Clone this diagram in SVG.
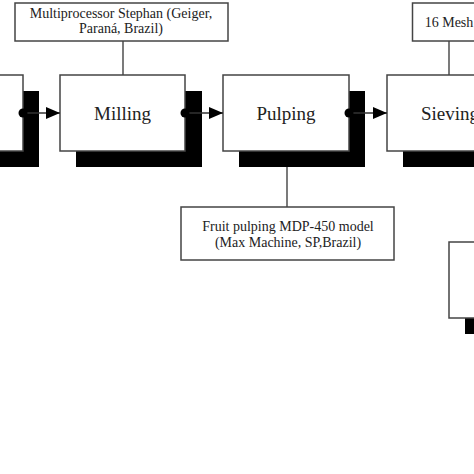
<svg xmlns="http://www.w3.org/2000/svg" width="474" height="474" viewBox="0 0 474 474">
<style>
.shadow{fill:#000;}
.box{fill:#fff;stroke:#444;stroke-width:1.5;}
.note{fill:#fff;stroke:#444;stroke-width:1.5;}
.lbl{font-family:"Liberation Serif","Times New Roman",serif;font-size:19px;fill:#222;text-anchor:middle;}
.ntxt{font-family:"Liberation Serif","Times New Roman",serif;font-size:14px;fill:#222;text-anchor:middle;}
.conn{stroke:#333;stroke-width:1.3;fill:none;}
.dot{fill:#000;}
</style>
<defs>
<marker id="arr" viewBox="0 0 14 12" refX="14" refY="6" markerWidth="14" markerHeight="12" markerUnits="userSpaceOnUse" orient="auto">
<path d="M0,0 L14,6 L0,12 Z" fill="#000"/>
</marker>
</defs>
<rect width="474" height="474" fill="#fff"/>

<g id="connectors">
<line class="conn" x1="123" y1="41" x2="123" y2="75"/>
<line class="conn" x1="449" y1="41" x2="449" y2="75"/>
<line class="conn" x1="287" y1="167" x2="287" y2="207"/>
</g>

<g id="node-prev">
<rect class="shadow" x="-86" y="91" width="125" height="76"/>
<rect class="box" x="-102" y="75" width="125" height="76"/>
</g>
<g id="node-milling">
<rect class="shadow" x="76" y="91" width="126" height="76"/>
<rect class="box" x="60" y="75" width="125" height="76"/>
<text class="lbl" x="122.5" y="119.5">Milling</text>
</g>
<g id="node-pulping">
<rect class="shadow" x="239" y="91" width="126" height="76"/>
<rect class="box" x="223" y="75" width="126" height="76"/>
<text class="lbl" x="286" y="119.5">Pulping</text>
</g>
<g id="node-sieving">
<rect class="shadow" x="403" y="91" width="126" height="76"/>
<rect class="box" x="387" y="75" width="126" height="76"/>
<text class="lbl" x="450" y="119.5">Sieving</text>
</g>
<g id="node-next">
<rect class="shadow" x="465" y="258" width="126" height="76"/>
<rect class="box" x="449" y="242" width="126" height="76"/>
</g>

<g id="note-milling">
<rect class="note" x="15" y="3" width="213" height="38"/>
<text class="ntxt" x="121" y="18">Multiprocessor Stephan (Geiger,</text>
<text class="ntxt" x="121" y="33">Paraná, Brazil)</text>
</g>
<g id="note-sieving">
<rect class="note" x="412.5" y="3" width="74" height="38"/>
<text class="ntxt" x="449" y="27">16 Mesh</text>
</g>
<g id="note-pulping">
<rect class="note" x="181" y="207" width="213" height="53"/>
<text class="ntxt" x="288" y="230.5">Fruit pulping MDP-450 model</text>
<text class="ntxt" x="288" y="247">(Max Machine, SP,Brazil)</text>
</g>

<g id="arrows">
<line class="conn" x1="23" y1="113" x2="60" y2="113" marker-end="url(#arr)"/>
<circle class="dot" cx="23" cy="113" r="4.5"/>
<line class="conn" x1="185" y1="113" x2="223" y2="113" marker-end="url(#arr)"/>
<circle class="dot" cx="185" cy="113" r="4.5"/>
<line class="conn" x1="349" y1="113" x2="387" y2="113" marker-end="url(#arr)"/>
<circle class="dot" cx="349" cy="113" r="4.5"/>
</g>
</svg>
